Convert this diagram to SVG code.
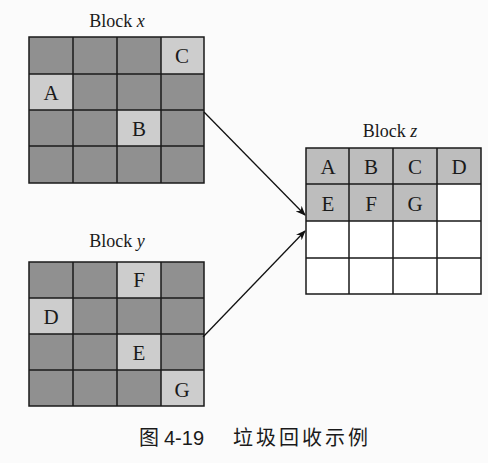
<svg xmlns="http://www.w3.org/2000/svg" width="488" height="463" viewBox="0 0 488 463">
<defs>
<marker id="ah" markerWidth="10" markerHeight="8" refX="9" refY="4" orient="auto" markerUnits="userSpaceOnUse">
<path d="M0,0 L10,4 L0,8 L3,4 Z" fill="#111"/>
</marker>
</defs>
<style>
.d{fill:#909090}
.l{fill:#cdcdcd}
.z{fill:#bdbdbd}
.w{fill:#fff}
.g{fill:none;stroke:#1a1a1a;stroke-width:1.5}
.t{font-family:"Liberation Serif","Times New Roman",serif;font-size:21px;fill:#1a1a1a;text-anchor:middle}
.h{font-family:"Liberation Serif","Times New Roman",serif;font-size:18px;fill:#1a1a1a;text-anchor:middle}
.c{font-family:"Liberation Sans","Noto Sans CJK SC",sans-serif;font-size:20px;fill:#1a1a1a}
.a{fill:none;stroke:#111;stroke-width:1.3}
</style>
<rect width="488" height="463" fill="#fbfbfb"/>

<g id="blockx">
<text class="h" x="117" y="27">Block <tspan font-style="italic">x</tspan></text>
<rect class="d" x="29" y="37" width="175" height="146"/>
<rect class="l" x="161" y="37" width="43" height="37"/>
<rect class="l" x="29" y="74" width="44" height="36"/>
<rect class="l" x="117" y="110" width="44" height="36"/>
<path class="g" d="M29,37H204V183H29Z M73,37V183 M117,37V183 M161,37V183 M29,74H204 M29,110H204 M29,146H204"/>
<text class="t" x="182" y="63">C</text>
<text class="t" x="51" y="100">A</text>
<text class="t" x="139" y="136">B</text>
</g>

<g id="blocky">
<text class="h" x="117" y="247">Block <tspan font-style="italic">y</tspan></text>
<rect class="d" x="29" y="262" width="175" height="144"/>
<rect class="l" x="117" y="262" width="44" height="36"/>
<rect class="l" x="29" y="298" width="44" height="36"/>
<rect class="l" x="117" y="334" width="44" height="36"/>
<rect class="l" x="161" y="370" width="43" height="36"/>
<path class="g" d="M29,262H204V406H29Z M73,262V406 M117,262V406 M161,262V406 M29,298H204 M29,334H204 M29,370H204"/>
<text class="t" x="139" y="287">F</text>
<text class="t" x="51" y="324">D</text>
<text class="t" x="139" y="360">E</text>
<text class="t" x="182" y="397">G</text>
</g>

<g id="blockz">
<text class="h" x="390" y="137">Block <tspan font-style="italic">z</tspan></text>
<rect class="w" x="306" y="148" width="175" height="146"/>
<rect class="z" x="306" y="148" width="175" height="36"/>
<rect class="z" x="306" y="184" width="131" height="37"/>
<path class="g" d="M306,148H481V294H306Z M349,148V294 M393,148V294 M437,148V294 M306,184H481 M306,221H481 M306,258H481"/>
<text class="t" x="328" y="174">A</text>
<text class="t" x="371" y="174">B</text>
<text class="t" x="415" y="174">C</text>
<text class="t" x="459" y="174">D</text>
<text class="t" x="328" y="211">E</text>
<text class="t" x="371" y="211">F</text>
<text class="t" x="415" y="211">G</text>
</g>

<g id="connectors">
<line class="a" x1="204" y1="112" x2="305" y2="215" marker-end="url(#ah)"/>
<line class="a" x1="203" y1="337" x2="305" y2="231" marker-end="url(#ah)"/>
</g>

<g id="caption">
<text class="c" y="445"><tspan x="139">图</tspan><tspan x="164">4-19</tspan><tspan x="233" letter-spacing="3">垃圾回收示例</tspan></text>
</g>
</svg>
